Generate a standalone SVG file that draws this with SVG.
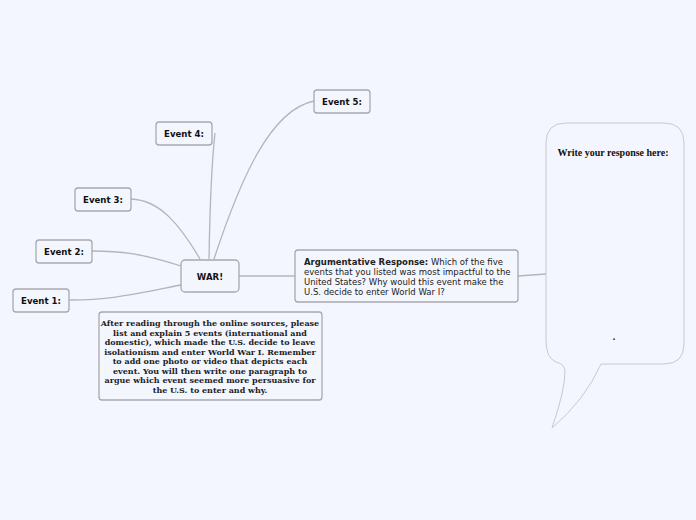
<svg xmlns="http://www.w3.org/2000/svg" width="696" height="520" viewBox="0 0 696 520">
<style>
.n rect{fill:#f4f6fe;stroke:#a8a8b0;stroke-width:1.3}
.t{font-family:"DejaVu Sans",sans-serif;font-size:8.6px;font-weight:bold;fill:#111;text-anchor:middle}
.s{font-family:"DejaVu Sans",sans-serif;font-size:8.5px;fill:#222}
.g{font-family:"DejaVu Serif",serif;font-size:8px;font-weight:bold;fill:#222;text-anchor:middle}
#c path{fill:none;stroke:#b4b4bc;stroke-width:1.3}
</style>
<rect width="696" height="520" fill="#f3f6fe"/>
<g id="c">
<path d="M181,285 C130,295 110,300 69,300"/>
<path d="M181,266 C140,253 120,251 92,251"/>
<path d="M200,259 C180,225 160,200 131,199"/>
<path d="M209,259 C210,200 212,160 215,133"/>
<path d="M214,259 C240,180 270,110 314,101"/>
<path d="M239,276 L295,276"/>
<path d="M518,276 L546,274"/>
</g>
<g id="war" class="n"><rect x="181" y="260" width="58" height="32" rx="4"/><text class="t" x="210" y="280" font-size="11">WAR!</text></g>
<g id="e1" class="n"><rect x="13" y="289" width="56" height="23" rx="3"/><text class="t" x="41" y="304">Event 1:</text></g>
<g id="e2" class="n"><rect x="36" y="240" width="56" height="23" rx="3"/><text class="t" x="64" y="255">Event 2:</text></g>
<g id="e3" class="n"><rect x="75" y="188" width="56" height="23" rx="3"/><text class="t" x="103" y="203">Event 3:</text></g>
<g id="e4" class="n"><rect x="156" y="122" width="56" height="23" rx="3"/><text class="t" x="184" y="137">Event 4:</text></g>
<g id="e5" class="n"><rect x="314" y="90" width="56" height="23" rx="3"/><text class="t" x="342" y="105">Event 5:</text></g>
<g id="arg" class="n"><rect x="295" y="250" width="223" height="52" rx="3"/>
<text class="s" x="304" y="265"><tspan font-weight="bold">Argumentative Response:</tspan> Which of the five</text>
<text class="s" x="304" y="275">events that you listed was most impactful to the</text>
<text class="s" x="304" y="285">United States? Why would this event make the</text>
<text class="s" x="304" y="295">U.S. decide to enter World War I?</text></g>
<g id="instr" class="n"><rect x="99" y="312" width="223" height="88" rx="3"/>
<text class="g" x="210" y="326">After reading through the online sources, please</text>
<text class="g" x="210" y="335.5">list and explain 5 events (international and</text>
<text class="g" x="210" y="345">domestic), which made the U.S. decide to leave</text>
<text class="g" x="210" y="354.5">isolationism and enter World War I. Remember</text>
<text class="g" x="210" y="364">to add one photo or video that depicts each</text>
<text class="g" x="210" y="373.5">event. You will then write one paragraph to</text>
<text class="g" x="210" y="383">argue which event seemed more persuasive for</text>
<text class="g" x="210" y="392.5">the U.S. to enter and why.</text></g>
<g id="callout">
<path d="M566,123 L664,123 Q684,123 684,143 L684,344 Q684,364 664,364 L601,364 Q585,400 552,428 Q565,390 565,372 Q565,364 556,362 Q546,358 546,340 L546,143 Q546,123 566,123 Z" fill="#f3f6fe" stroke="#c8c8d0" stroke-width="1"/>
<text x="613" y="156" font-family="Liberation Serif,serif" font-size="10px" font-weight="bold" fill="#111" text-anchor="middle">Write your response here:</text>
<text x="614" y="340" font-family="Liberation Serif,serif" font-size="10px" font-weight="bold" fill="#111" text-anchor="middle">.</text>
</g>
</svg>
